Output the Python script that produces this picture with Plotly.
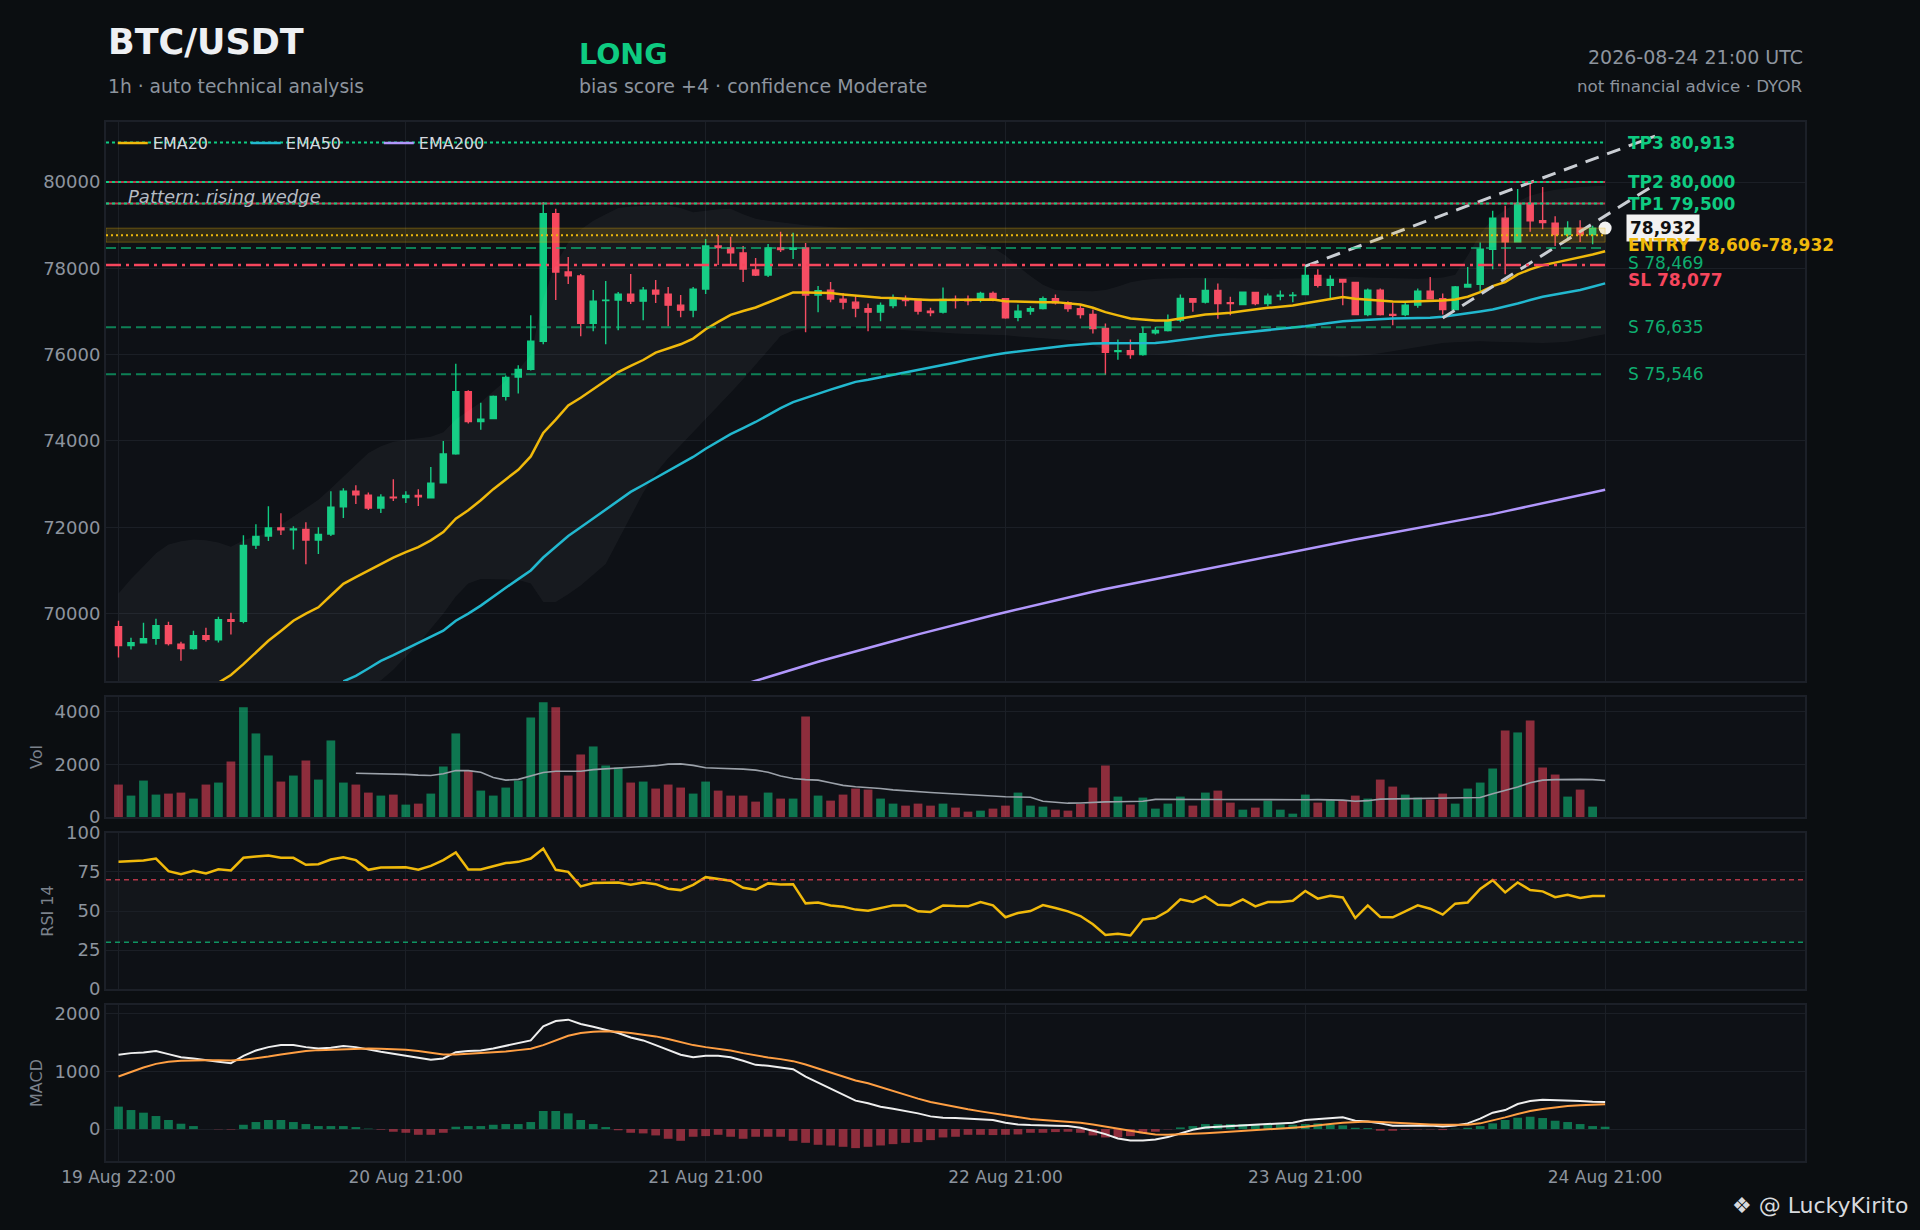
import pandas as pd
import plotly.graph_objects as go
from plotly.subplots import make_subplots

# Hourly bars: candles run 19 Aug 22:00 -> 24 Aug 20:00, indicators one bar further
times = pd.date_range('2026-08-19 22:00', periods=120, freq='h')
candle_times = times[:119]

opens = [69697, 69263, 69325, 69426, 69720, 69294, 69193, 69488, 69395, 69860,
         69821, 71589, 71798, 71984, 71945, 71953, 71705, 71844, 72473, 72837,
         72744, 72449, 72697, 72690, 72736, 72682, 73031, 73705, 75139, 74449,
         74519, 75033, 75481, 75659, 76310, 79264, 77915, 77822, 76729, 77256,
         77264, 77403, 77240, 77496, 77403, 77147, 77031, 77519, 78519, 78473,
         78357, 77961, 77845, 78473, 78442, 78473, 77380, 77496, 77287, 77217,
         77062, 76985, 77140, 77279, 77279, 77008, 76985, 77279, 77279, 77279,
         77419, 77295, 76868, 77008, 77070, 77295, 77202, 77062, 76930, 76605,
         76070, 76093, 76000, 76504, 76558, 76799, 77295, 77217, 77488, 77202,
         77163, 77441, 77186, 77356, 77372, 77395, 77837, 77604, 77744, 77674,
         76930, 77496, 76930, 76930, 77147, 77473, 77294, 77046, 77566, 77628,
         78442, 79163, 78612, 79504, 79101, 79046, 78783, 78930, 78783]
highs = [69837, 69441, 69790, 69883, 69814, 69348, 69604, 69674, 69930, 70023,
         71814, 72069, 72488, 72325, 72023, 72116, 72000, 72837, 72907, 72976,
         72806, 72767, 73116, 72837, 72883, 73395, 73999, 75790, 75178, 74883,
         75054, 75519, 75752, 76915, 79535, 79380, 78264, 77868, 77496, 77705,
         77450, 77868, 77566, 77729, 77566, 77380, 77566, 78682, 78775, 78729,
         78519, 78240, 78566, 78845, 78822, 78589, 77589, 77682, 77426, 77357,
         77186, 77209, 77396, 77372, 77295, 77085, 77558, 77372, 77372, 77457,
         77465, 77310, 77163, 77124, 77349, 77396, 77240, 77163, 77047, 76721,
         76349, 76349, 76644, 76644, 76930, 77396, 77310, 77768, 77651, 77341,
         77465, 77449, 77418, 77488, 77449, 78054, 77977, 77837, 77760, 77682,
         77535, 77535, 77201, 77201, 77535, 77798, 77418, 77589, 78031, 78597,
         79333, 79450, 79837, 80008, 79884, 79209, 79093, 79116, 78984]
lows = [68984, 69170, 69310, 69279, 69263, 68907, 69162, 69356, 69333, 69519,
        69775, 71496, 71682, 71821, 71488, 71147, 71379, 71798, 72217, 72542,
        72403, 72333, 72612, 72565, 72496, 72682, 73031, 73682, 74403, 74263,
        74519, 74938, 75101, 75635, 76240, 77264, 77636, 76426, 76543, 76240,
        76566, 77171, 76798, 77194, 76659, 76868, 76868, 77403, 78078, 78101,
        77682, 77822, 77798, 78380, 78217, 76519, 76985, 77217, 77054, 76868,
        76543, 76775, 77078, 77124, 76930, 76892, 76954, 77070, 77147, 77217,
        77240, 76830, 76775, 76923, 77047, 77163, 76992, 76837, 76488, 75535,
        75884, 75907, 75977, 76465, 76535, 76752, 76992, 77186, 76830, 76915,
        77147, 77147, 77124, 77263, 77217, 77395, 77558, 77302, 77147, 76914,
        76891, 76907, 76682, 76891, 77085, 77279, 76930, 77031, 77550, 77434,
        77977, 77860, 78612, 78845, 78907, 78519, 78659, 78612, 78558]
closes = [69263, 69325, 69418, 69720, 69310, 69193, 69488, 69403, 69860, 69821,
          71581, 71790, 71984, 71945, 71961, 71705, 71837, 72465, 72837, 72752,
          72449, 72697, 72682, 72736, 72705, 73023, 73697, 75139, 74449, 74503,
          75033, 75473, 75659, 76310, 79264, 77915, 77829, 76729, 77240, 77264,
          77403, 77240, 77496, 77403, 77147, 77031, 77519, 78519, 78481, 78357,
          77985, 77845, 78473, 78434, 78473, 77380, 77481, 77287, 77217, 77078,
          76985, 77140, 77295, 77256, 77008, 76977, 77279, 77256, 77248, 77419,
          77279, 76853, 77008, 77062, 77295, 77202, 77070, 76930, 76605, 76054,
          76093, 76000, 76488, 76558, 76775, 77302, 77217, 77488, 77186, 77186,
          77449, 77186, 77356, 77380, 77380, 77837, 77604, 77744, 77682, 76930,
          77496, 76930, 76914, 77147, 77473, 77294, 77046, 77566, 77628, 78442,
          79163, 78612, 79504, 79101, 79062, 78783, 78930, 78783, 78932]
volumes = [1232, 813, 1384, 851, 889, 927, 699, 1232, 1308, 2108,
           4166, 3175, 2337, 1346, 1575, 2146, 1422, 2908, 1308, 1232,
           927, 813, 851, 470, 508, 889, 1918, 3175, 1765, 1003,
           813, 1118, 1384, 3785, 4356, 4166, 1575, 2375, 2680, 1956,
           1880, 1308, 1346, 1080, 1232, 1118, 889, 1346, 1003, 813,
           813, 584, 927, 699, 699, 3823, 813, 622, 851, 1080,
           1041, 699, 508, 432, 508, 432, 508, 356, 203, 241,
           318, 432, 927, 432, 394, 279, 241, 495, 1118, 1956,
           775, 470, 737, 318, 508, 775, 432, 927, 1003, 546,
           279, 356, 622, 279, 127, 851, 546, 660, 622, 813,
           699, 1422, 1156, 851, 737, 660, 889, 508, 1080, 1308,
           1842, 3289, 3213, 3670, 1880, 1613, 775, 1041, 394]
vol_ma = [None] * 19 + [
    1664, 1660, 1650, 1640, 1620, 1590, 1575, 1640, 1765, 1760, 1700,
    1500, 1400, 1430, 1575, 1690, 1740, 1745, 1740, 1800, 1840,
    1870, 1892, 1920, 1950, 2010, 2019, 1960, 1870, 1850, 1840,
    1820, 1780, 1700, 1560, 1460, 1420, 1400, 1300, 1200, 1150,
    1120, 1080, 1030, 990, 960, 930, 900, 870, 840, 810,
    790, 770, 760, 750, 600, 560, 525, 530, 560, 575,
    580, 585, 600, 670, 675, 675, 670, 665, 665, 660,
    660, 660, 655, 655, 650, 655, 660, 660, 640, 600,
    620, 680, 690, 700, 705, 710, 715, 720, 725, 740,
    880, 1000, 1140, 1300, 1400, 1420, 1435, 1430, 1420, 1384]

ema20 = [None] * 8 + [
    68400, 68580, 68829, 69100, 69372, 69600, 69837, 70000, 70147, 70420, 70690, 70845,
    71000, 71155, 71300, 71426, 71542, 71697, 71891, 72201, 72395, 72628,
    72884, 73110, 73333, 73643, 74186, 74496, 74822, 75000, 75200, 75388,
    75597, 75740, 75876, 76046, 76150, 76240, 76372, 76589, 76760, 76923,
    77010, 77093, 77209, 77330, 77442, 77442, 77435, 77426, 77395, 77364,
    77340, 77318, 77310, 77302, 77280, 77264, 77264, 77264, 77270, 77279,
    77279, 77240, 77228, 77217, 77217, 77217, 77190, 77163, 77085, 76985,
    76910, 76837, 76814, 76791, 76791, 76837, 76868, 76930, 76950, 76969,
    77010, 77050, 77085, 77110, 77139, 77190, 77240, 77290, 77333, 77294,
    77270, 77240, 77230, 77225, 77232, 77240, 77255, 77279, 77341, 77449,
    77589, 77682, 77860, 77977, 78070, 78132, 78190, 78248, 78320, 78395]
ema50 = [None] * 18 + [
    68430, 68560,
    68730, 68907, 69040, 69178, 69320, 69460, 69604, 69837, 70000, 70186,
    70400, 70600, 70800, 71000, 71300, 71560, 71800, 72000, 72200, 72400,
    72620, 72820, 72980, 73140, 73300, 73460, 73630, 73820, 73990, 74160,
    74300, 74440, 74600, 74760, 74900, 75000, 75100, 75190, 75280, 75370,
    75420, 75475, 75535, 75590, 75645, 75700, 75760, 75820, 75880, 75940,
    75990, 76040, 76078, 76110, 76140, 76175, 76210, 76240, 76256, 76265,
    76265, 76260, 76262, 76270, 76300, 76340, 76380, 76420, 76450, 76480,
    76510, 76540, 76570, 76595, 76620, 76660, 76700, 76740, 76775, 76790,
    76810, 76829, 76838, 76845, 76850, 76855, 76880, 76915, 76953, 77000,
    77046, 77110, 77186, 77265, 77341, 77395, 77445, 77496, 77575, 77651]
ema200 = [None] * 48 + [
    68180, 68270,
    68360, 68450, 68540, 68628, 68715, 68800, 68885, 68968, 69050, 69130,
    69210, 69288, 69366, 69443, 69520, 69596, 69671, 69745, 69818, 69891,
    69963, 70034, 70104, 70173, 70242, 70310, 70377, 70443, 70508, 70570,
    70628, 70685, 70742, 70800, 70858, 70917, 70976, 71035, 71093, 71150,
    71207, 71264, 71321, 71378, 71435, 71493, 71550, 71606, 71662, 71717,
    71770, 71823, 71875, 71927, 71979, 72031, 72082, 72134, 72187, 72245,
    72306, 72369, 72434, 72498, 72562, 72624, 72686, 72747, 72808, 72870]
bb_upper = [70466, 70800, 71100, 71400, 71600, 71680, 71720, 71700, 71650, 71550,
            71700, 71800, 71860, 72050, 72250, 72450, 72636, 72900, 73180, 73450,
            73721, 73880, 73980, 74031, 74070, 74100, 74200, 74500, 74700, 74900,
            75150, 75400, 75650, 76000, 77300, 78100, 78600, 78900, 79100, 79250,
            79400, 79430, 79450, 79460, 79458, 79400, 79300, 79342, 79370, 79380,
            79250, 79150, 79100, 79070, 79030, 79000, 78980, 78960, 78940, 78915,
            78890, 78860, 78830, 78790, 78740, 78700, 78660, 78630, 78600, 78560,
            78480, 78300, 78050, 77820, 77620, 77500, 77480, 77470, 77470, 77500,
            77580, 77680, 77730, 77760, 77770, 77780, 77780, 77780, 77780, 77775,
            77770, 77765, 77760, 77760, 77760, 77770, 77780, 77790, 77800, 77800,
            77790, 77780, 77770, 77760, 77760, 77770, 77790, 77850, 78300, 78800,
            79150, 79350, 79550, 79680, 79760, 79820, 79860, 79885, 79900, 79914]
bb_lower = [68350, 68150, 67950, 67750, 67600, 67500, 67450, 67450, 67500, 67550,
            67450, 67400, 67420, 67550, 67700, 67850, 68000, 68100, 68200, 68300,
            68380, 68450, 68700, 69000, 69300, 69650, 70000, 70400, 70700, 70800,
            70800, 70790, 70780, 70700, 70272, 70272, 70450, 70650, 70900, 71150,
            71700, 72250, 72800, 73250, 73600, 73900, 74200, 74500, 74800, 75117,
            75430, 75760, 76100, 76435, 76560, 76600, 76620, 76640, 76660, 76640,
            76620, 76600, 76580, 76560, 76540, 76520, 76500, 76490, 76480, 76470,
            76465, 76450, 76420, 76400, 76380, 76360, 76340, 76300, 76220, 76100,
            76050, 76020, 76010, 76000, 75990, 75985, 75980, 75975, 75970, 75970,
            75975, 75980, 75985, 75990, 75985, 75975, 75965, 75960, 75960, 75970,
            75990, 76030, 76080, 76130, 76180, 76230, 76270, 76290, 76305, 76310,
            76300, 76290, 76280, 76270, 76270, 76280, 76300, 76350, 76420, 76470]

rsi = [81.5, 81.7, 82.3, 83.6, 75.5, 73.6, 75.8, 74.1, 76.8, 76.0,
       84.1, 84.9, 85.5, 84.1, 84.1, 79.6, 80.0, 83.0, 84.5, 82.6,
       76.4, 77.9, 77.9, 78.1, 76.4, 78.9, 82.6, 87.5, 76.6, 76.6,
       78.7, 80.7, 81.5, 83.6, 90.0, 76.4, 75.1, 65.8, 67.9, 68.1,
       68.3, 66.8, 68.3, 67.2, 64.3, 63.4, 66.8, 71.7, 70.6, 69.4,
       64.9, 63.6, 67.7, 67.0, 67.2, 54.9, 55.5, 53.6, 52.8, 50.9,
       50.2, 51.7, 53.6, 53.6, 49.8, 49.4, 53.6, 53.2, 53.0, 55.8,
       53.6, 46.0, 48.7, 50.0, 53.8, 51.9, 49.8, 46.8, 41.5, 34.7,
       35.5, 34.3, 44.5, 45.5, 50.0, 57.5, 55.8, 59.4, 54.0, 53.6,
       57.5, 53.0, 55.8, 55.8, 56.6, 62.8, 57.9, 59.8, 58.7, 45.5,
       53.6, 46.2, 46.0, 49.8, 53.6, 51.5, 47.7, 54.7, 55.5, 64.1,
       69.8, 61.9, 68.3, 63.4, 62.6, 58.9, 60.4, 58.3, 59.6, 59.6]

macd = [1287, 1316, 1328, 1351, 1299, 1246, 1223, 1188, 1165, 1142,
        1270, 1362, 1420, 1455, 1455, 1420, 1397, 1409, 1438, 1420,
        1374, 1339, 1304, 1270, 1223, 1200, 1223, 1333, 1351, 1362,
        1397, 1443, 1478, 1536, 1780, 1872, 1896, 1820, 1774, 1722,
        1664, 1588, 1536, 1455, 1374, 1287, 1246, 1270, 1270, 1246,
        1183, 1113, 1096, 1067, 1038, 910, 806, 701, 597, 493,
        446, 388, 354, 319, 272, 220, 197, 191, 180, 168,
        157, 110, 81, 70, 70, 58, 52, 23, -29, -87,
        -162, -197, -197, -180, -139, -75, -12, 29, 41, 52,
        75, 81, 87, 99, 110, 157, 174, 191, 203, 145,
        133, 99, 58, 58, 64, 64, 46, 64, 99, 180,
        284, 330, 435, 487, 510, 504, 504, 487, 475, 470]
macd_signal = [910, 991, 1067, 1130, 1165, 1183, 1194, 1194, 1194, 1188,
               1200, 1223, 1258, 1293, 1328, 1351, 1368, 1374, 1386, 1397,
               1397, 1391, 1386, 1374, 1351, 1316, 1293, 1293, 1304, 1316,
               1328, 1345, 1368, 1391, 1455, 1536, 1617, 1664, 1687, 1693,
               1687, 1664, 1641, 1606, 1559, 1501, 1455, 1420, 1391, 1362,
               1316, 1275, 1241, 1212, 1177, 1119, 1049, 980, 910, 841,
               794, 725, 655, 585, 528, 470, 423, 377, 342, 307,
               272, 238, 203, 174, 157, 145, 128, 110, 81, 41,
               6, -29, -64, -93, -99, -93, -81, -70, -58, -46,
               -35, -17, -6, 12, 23, 41, 58, 87, 110, 128,
               133, 122, 110, 99, 87, 81, 75, 75, 75, 99,
               145, 203, 261, 313, 348, 377, 400, 412, 423, 429]
macd_hist = [389, 330, 284, 226, 157, 93, 52, 0, -5, -8,
             75, 122, 157, 157, 122, 87, 52, 52, 52, 35,
             8, -10, -46, -64, -99, -99, -64, 41, 52, 52,
             75, 87, 87, 122, 313, 313, 272, 157, 87, 35,
             -20, -64, -75, -110, -168, -203, -133, -122, -99, -133,
             -168, -133, -133, -133, -203, -238, -272, -284, -307, -330,
             -307, -284, -261, -238, -226, -191, -145, -133, -99, -99,
             -104, -99, -93, -64, -64, -52, -46, -64, -110, -145,
             -145, -122, -75, -46, -6, 29, 52, 87, 87, 87,
             87, 87, 87, 81, 75, 87, 99, 75, 64, 23,
             17, -29, -29, -12, -6, -6, -17, 6, 23, 52,
             99, 157, 197, 214, 191, 145, 122, 87, 52, 41]

# Trade plan levels
tp_names = ['TP1', 'TP2', 'TP3']
tp_levels = [79500, 80000, 80913]
resistance_levels = [79500, 80000]
support_levels = [78469, 76635, 75546]
stop_loss = 78077
entry_zone = [78606, 78932]
last_price = 78932

# Rising wedge trendlines (time, price)
wedge_upper_t = ['2026-08-23 21:00', '2026-08-25 01:00']
wedge_upper_p = [78050, 81063]
wedge_lower_t = ['2026-08-24 08:00', '2026-08-25 01:00']
wedge_lower_p = [76849, 79942]

tick_times = ['2026-08-19 22:00', '2026-08-20 21:00', '2026-08-21 21:00',
              '2026-08-22 21:00', '2026-08-23 21:00', '2026-08-24 21:00']
tick_labels = ['19 Aug 22:00', '20 Aug 21:00', '21 Aug 21:00',
               '22 Aug 21:00', '23 Aug 21:00', '24 Aug 21:00']

GREEN = '#0ecb81'
RED = '#f6465d'
YELLOW = '#f0b90b'
FONT = 'DejaVu Sans'
x_start = pd.Timestamp('2026-08-19 21:00')
x_end = pd.Timestamp('2026-08-25 13:00')
lvl_end = times[-1]
label_x = times[-1] + pd.Timedelta(minutes=100)

fig = make_subplots(rows=4, cols=1, shared_xaxes=True, vertical_spacing=0.0)

# Bollinger-style envelope
fig.add_trace(go.Scatter(x=times, y=bb_lower, mode='lines', line=dict(width=0),
                         hoverinfo='skip', showlegend=False), row=1, col=1)
fig.add_trace(go.Scatter(x=times, y=bb_upper, mode='lines', line=dict(width=0),
                         fill='tonexty', fillcolor='rgba(255,255,255,0.04)',
                         hoverinfo='skip', showlegend=False), row=1, col=1)

fig.add_trace(go.Candlestick(x=candle_times, open=opens, high=highs, low=lows, close=closes,
                             increasing=dict(line=dict(color=GREEN, width=1.4), fillcolor=GREEN),
                             decreasing=dict(line=dict(color=RED, width=1.4), fillcolor=RED),
                             showlegend=False), row=1, col=1)

fig.add_trace(go.Scatter(x=times, y=ema20, name='EMA20', mode='lines',
                         line=dict(color=YELLOW, width=2.5)), row=1, col=1)
fig.add_trace(go.Scatter(x=times, y=ema50, name='EMA50', mode='lines',
                         line=dict(color='#22b8cf', width=2.5)), row=1, col=1)
fig.add_trace(go.Scatter(x=times, y=ema200, name='EMA200', mode='lines',
                         line=dict(color='#b197fc', width=2.5)), row=1, col=1)

# wedge
fig.add_trace(go.Scatter(x=pd.to_datetime(wedge_upper_t), y=wedge_upper_p, mode='lines',
                         line=dict(color='#c9cdd3', width=3, dash='14px,9px'),
                         showlegend=False, hoverinfo='skip'), row=1, col=1)
fig.add_trace(go.Scatter(x=pd.to_datetime(wedge_lower_t), y=wedge_lower_p, mode='lines',
                         line=dict(color='#c9cdd3', width=3, dash='14px,9px'),
                         showlegend=False, hoverinfo='skip'), row=1, col=1)

fig.add_trace(go.Scatter(x=[times[-1]], y=[last_price], mode='markers',
                         marker=dict(color='#f2f2f2', size=13), showlegend=False), row=1, col=1)

# Volume
vol_colors = ['rgba(14,203,129,0.55)' if c >= o else 'rgba(246,70,93,0.55)'
              for o, c in zip(opens, closes)]
fig.add_trace(go.Bar(x=candle_times, y=volumes, marker=dict(color=vol_colors, line=dict(width=0)),
                     showlegend=False), row=2, col=1)
fig.add_trace(go.Scatter(x=times, y=vol_ma, mode='lines', line=dict(color='#9ba1a9', width=1.6),
                         showlegend=False), row=2, col=1)

# RSI
fig.add_trace(go.Scatter(x=times, y=rsi, mode='lines', line=dict(color=YELLOW, width=2.5),
                         showlegend=False), row=3, col=1)

# MACD
hist_colors = ['rgba(14,203,129,0.55)' if h >= 0 else 'rgba(246,70,93,0.55)' for h in macd_hist]
fig.add_trace(go.Bar(x=times, y=macd_hist, marker=dict(color=hist_colors, line=dict(width=0)),
                     showlegend=False), row=4, col=1)
fig.add_trace(go.Scatter(x=times, y=macd, mode='lines', line=dict(color='#eeeeee', width=2),
                         showlegend=False), row=4, col=1)
fig.add_trace(go.Scatter(x=times, y=macd_signal, mode='lines', line=dict(color='#ff9f43', width=2),
                         showlegend=False), row=4, col=1)

# Level lines
shapes = []
shapes.append(dict(type='rect', xref='x', yref='y', x0=x_start, x1=lvl_end,
                   y0=entry_zone[0], y1=entry_zone[1], fillcolor='rgba(240,185,11,0.16)',
                   line=dict(color='rgba(240,185,11,0.3)', width=1), layer='above'))
shapes.append(dict(type='line', xref='x', yref='y', x0=x_start, x1=lvl_end,
                   y0=sum(entry_zone) / 2, y1=sum(entry_zone) / 2,
                   line=dict(color=YELLOW, width=2, dash='2px,3px'), layer='above'))
for r in resistance_levels:
    shapes.append(dict(type='line', xref='x', yref='y', x0=x_start, x1=lvl_end, y0=r, y1=r,
                       line=dict(color='rgba(246,70,93,0.75)', width=2), layer='above'))
for t in tp_levels:
    shapes.append(dict(type='line', xref='x', yref='y', x0=x_start, x1=lvl_end, y0=t, y1=t,
                       line=dict(color=GREEN, width=2, dash='3px,3px'), layer='above'))
for s in support_levels:
    shapes.append(dict(type='line', xref='x', yref='y', x0=x_start, x1=lvl_end, y0=s, y1=s,
                       line=dict(color='rgba(14,203,129,0.6)', width=2, dash='10px,5px'), layer='above'))
shapes.append(dict(type='line', xref='x', yref='y', x0=x_start, x1=lvl_end, y0=stop_loss, y1=stop_loss,
                   line=dict(color=RED, width=2.5, dash='15px,5px,3px,5px'), layer='above'))

# RSI zone
shapes.append(dict(type='rect', xref='x3 domain', yref='y3', x0=0, x1=1, y0=30, y1=70,
                   fillcolor='rgba(255,255,255,0.025)', line=dict(width=0), layer='below'))
shapes.append(dict(type='line', xref='x3 domain', yref='y3', x0=0, x1=1, y0=70, y1=70,
                   line=dict(color='rgba(246,70,93,0.7)', width=1.5, dash='5px,4px')))
shapes.append(dict(type='line', xref='x3 domain', yref='y3', x0=0, x1=1, y0=30, y1=30,
                   line=dict(color='rgba(14,203,129,0.7)', width=1.5, dash='5px,4px')))

# Right side labels, pushed apart when they would overlap
labels = [(f'{n} {v:,}', v, GREEN, True) for n, v in zip(tp_names, tp_levels)]
labels.append((f'{last_price:,}', last_price, 'box', True))
labels.append((f'ENTRY {entry_zone[0]:,}-{entry_zone[1]:,}', sum(entry_zone) / 2, YELLOW, True))
labels += [(f'S {s:,}', s, GREEN, False) for s in support_levels]
labels.append((f'SL {stop_loss:,}', stop_loss, RED, True))
labels.sort(key=lambda r: -r[1])

annotations = []
prev = None
for text, val, color, bold in labels:
    ypos = val if prev is None else min(val, prev - 400)
    prev = ypos
    if color == 'box':
        annotations.append(dict(x=label_x, y=ypos, xref='x', yref='y', text=f'<b>{text}</b>',
                                showarrow=False, xanchor='left', yanchor='middle',
                                font=dict(family=FONT, size=17, color='#111111'),
                                bgcolor='#f2f2f2', borderpad=3))
    else:
        annotations.append(dict(x=label_x, y=ypos, xref='x', yref='y',
                                text=f'<b>{text}</b>' if bold else text,
                                showarrow=False, xanchor='left', yanchor='middle',
                                font=dict(family=FONT, size=17,
                                          color=color if bold else 'rgba(14,203,129,0.85)')))

annotations.append(dict(x=0.012, y=0.866, xref='x domain', yref='y domain', text='<i>Pattern: rising wedge</i>',
                        showarrow=False, xanchor='left', yanchor='middle',
                        font=dict(family=FONT, size=18, color='#b4bac2')))

# Header
header = [
    ('<b>BTC/USDT</b>', 0, 1.077, 'left', 35, '#eef0f3'),
    ('1h · auto technical analysis', 0, 1.0346, 'left', 18.7, '#8d949e'),
    ('<b>LONG</b>', 0.2772, 1.0654, 'left', 28.5, GREEN),
    ('bias score +4 · confidence Moderate', 0.2772, 1.0346, 'left', 19, '#8d949e'),
    ('2026-08-24 21:00 UTC', 1, 1.0626, 'right', 19, '#8d949e'),
    ('not financial advice · DYOR', 1, 1.0346, 'right', 16.7, '#8d949e'),
]
for text, x, y, anchor, size, color in header:
    annotations.append(dict(x=x, y=y, xref='paper', yref='paper', text=text, showarrow=False,
                            xanchor=anchor, yanchor='middle',
                            font=dict(family=FONT, size=size, color=color)))
annotations.append(dict(x=1.062, y=-0.0433, xref='paper', yref='paper', text='❖ @ LuckyKirito',
                        showarrow=False, xanchor='right', yanchor='middle',
                        font=dict(family=FONT, size=22, color='#d8dade')))

fig.update_layout(
    width=1920, height=1230,
    paper_bgcolor='#0b0e11', plot_bgcolor='#0e1116',
    margin=dict(l=106, r=115, t=122, b=69),
    font=dict(family=FONT, color='#8d949e'),
    shapes=shapes, annotations=annotations,
    bargap=0.3, boxgap=0.3,
    legend=dict(orientation='h', traceorder='normal', x=0.004, y=0.996, xanchor='left', yanchor='top',
                bgcolor='rgba(0,0,0,0)', font=dict(family=FONT, size=16, color='#d4d8de'),
                entrywidth=88, entrywidthmode='pixels'),
    yaxis=dict(domain=[0.462, 1]),
    yaxis2=dict(domain=[0.3311, 0.4466]),
    yaxis3=dict(domain=[0.1655, 0.3157]),
    yaxis4=dict(domain=[0, 0.1501]),
)

fig.update_xaxes(range=[x_start, x_end], tickvals=pd.to_datetime(tick_times), ticktext=tick_labels,
                 gridcolor='#1b1f26', showline=True, mirror=True, linecolor='#1c2028', linewidth=2,
                 zeroline=False, rangeslider_visible=False,
                 tickfont=dict(family=FONT, size=17, color='#8d949e'))
fig.update_yaxes(gridcolor='#1b1f26', showline=True, mirror=True, linecolor='#1c2028', linewidth=2,
                 zeroline=False, tickfont=dict(family=FONT, size=18, color='#8d949e'))

fig.update_yaxes(range=[68440, 81390], tickvals=[70000, 72000, 74000, 76000, 78000, 80000],
                 tickformat='d', row=1, col=1)
fig.update_yaxes(range=[0, 4560], tickvals=[0, 2000, 4000], tickformat='d',
                 title=dict(text='Vol', font=dict(size=16, color='#7b828c'), standoff=8), row=2, col=1)
fig.update_yaxes(range=[0, 100], tickvals=[0, 25, 50, 75, 100],
                 title=dict(text='RSI 14', font=dict(size=16, color='#7b828c'), standoff=8), row=3, col=1)
fig.update_yaxes(range=[-553, 2149], tickvals=[0, 1000, 2000], tickformat='d',
                 title=dict(text='MACD', font=dict(size=16, color='#7b828c'), standoff=8), row=4, col=1)

fig.write_html("out.html", config={'displayModeBar': False},
               post_script="document.body.style.margin='0';")
